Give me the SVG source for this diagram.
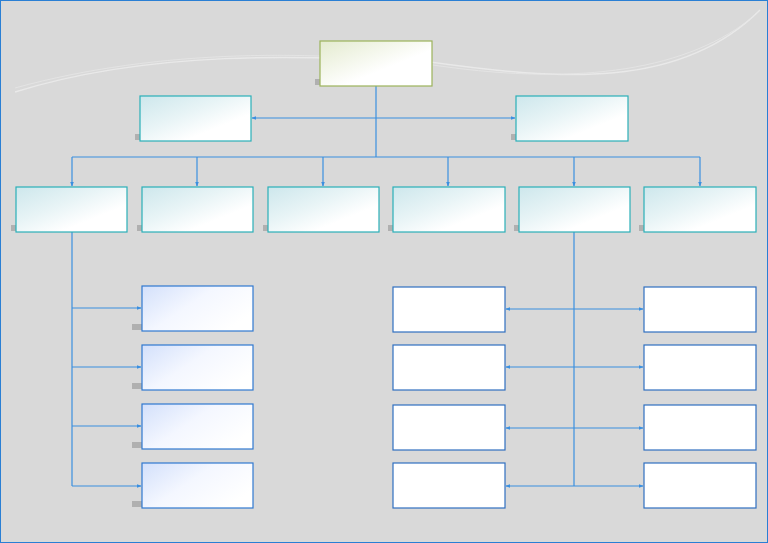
<svg xmlns="http://www.w3.org/2000/svg" width="768" height="543" viewBox="0 0 768 543">
<defs>
<linearGradient id="gG" x1="0" y1="0" x2="1" y2="1"><stop offset="0" stop-color="#e4ebcf"/><stop offset="0.6" stop-color="#ffffff"/></linearGradient>
<linearGradient id="gT" x1="0" y1="0" x2="1" y2="1"><stop offset="0" stop-color="#cde7ec"/><stop offset="0.4" stop-color="#e8f4f6"/><stop offset="0.7" stop-color="#ffffff"/></linearGradient>
<linearGradient id="gB" x1="0" y1="0" x2="1" y2="0.6"><stop offset="0" stop-color="#d3e0fb"/><stop offset="0.5" stop-color="#f4f7ff"/><stop offset="1" stop-color="#ffffff"/></linearGradient>
<marker id="ar" viewBox="0 0 10 10" refX="9" refY="5" markerWidth="4" markerHeight="4" orient="auto-start-reverse"><path d="M0 1L10 5L0 9z" fill="#3a8fe0"/></marker>
</defs>
<style>
.sh{fill:#888;opacity:.5}
.g{fill:url(#gG);stroke:#9bb35a;stroke-width:1.2}
.t{fill:url(#gT);stroke:#2ab0b8;stroke-width:1.2}
.b{fill:url(#gB);stroke:#2f78d0;stroke-width:1.2}
.w{fill:#fff;stroke:#2f6fc0;stroke-width:1.2}
.c{fill:none;stroke:#3a8fe0;stroke-width:1.2}
</style>
<rect x="0" y="0" width="768" height="543" fill="#d9d9d9" stroke="#2a7fd4" stroke-width="2"/>
<path d="M15 92 C150 50 300 55 430 62 C560 80 680 90 760 10" fill="none" stroke="#ececec" stroke-width="1.5" opacity=".8"/>
<path d="M15 88 C160 48 320 50 440 66 C580 86 690 70 755 15" fill="none" stroke="#e6e6e6" stroke-width="1" opacity=".8"/>
<g id="connectors">
<path class="c" d="M376 86V157"/>
<path class="c" d="M252 118H515" marker-start="url(#ar)" marker-end="url(#ar)"/>
<path class="c" d="M72 157H700"/>
<path class="c" d="M72 157V186" marker-end="url(#ar)"/>
<path class="c" d="M197 157V186" marker-end="url(#ar)"/>
<path class="c" d="M323 157V186" marker-end="url(#ar)"/>
<path class="c" d="M448 157V186" marker-end="url(#ar)"/>
<path class="c" d="M574 157V186" marker-end="url(#ar)"/>
<path class="c" d="M700 157V186" marker-end="url(#ar)"/>
<path class="c" d="M72 232V486"/>
<path class="c" d="M72 308H141" marker-end="url(#ar)"/>
<path class="c" d="M72 367H141" marker-end="url(#ar)"/>
<path class="c" d="M72 426H141" marker-end="url(#ar)"/>
<path class="c" d="M72 486H141" marker-end="url(#ar)"/>
<path class="c" d="M574 232V486"/>
<path class="c" d="M506 309H643" marker-start="url(#ar)" marker-end="url(#ar)"/>
<path class="c" d="M506 367H643" marker-start="url(#ar)" marker-end="url(#ar)"/>
<path class="c" d="M506 428H643" marker-start="url(#ar)" marker-end="url(#ar)"/>
<path class="c" d="M506 486H643" marker-start="url(#ar)" marker-end="url(#ar)"/>
</g>
<g id="n0"><rect class="sh" x="315" y="79" width="20" height="6"/><rect class="g" x="320" y="41" width="112" height="45"/></g>
<g id="n1"><rect class="sh" x="135" y="134" width="20" height="6"/><rect class="t" x="140" y="96" width="111" height="45"/></g>
<g id="n2"><rect class="sh" x="511" y="134" width="20" height="6"/><rect class="t" x="516" y="96" width="112" height="45"/></g>
<g id="n3"><rect class="sh" x="11" y="225" width="20" height="6"/><rect class="t" x="16" y="187" width="111" height="45"/></g>
<g id="n4"><rect class="sh" x="137" y="225" width="20" height="6"/><rect class="t" x="142" y="187" width="111" height="45"/></g>
<g id="n5"><rect class="sh" x="263" y="225" width="20" height="6"/><rect class="t" x="268" y="187" width="111" height="45"/></g>
<g id="n6"><rect class="sh" x="388" y="225" width="20" height="6"/><rect class="t" x="393" y="187" width="112" height="45"/></g>
<g id="n7"><rect class="sh" x="514" y="225" width="20" height="6"/><rect class="t" x="519" y="187" width="111" height="45"/></g>
<g id="n8"><rect class="sh" x="639" y="225" width="20" height="6"/><rect class="t" x="644" y="187" width="112" height="45"/></g>
<g id="n9"><rect class="sh" x="132" y="324" width="20" height="6"/><rect class="b" x="142" y="286" width="111" height="45"/></g>
<g id="n10"><rect class="sh" x="132" y="383" width="20" height="6"/><rect class="b" x="142" y="345" width="111" height="45"/></g>
<g id="n11"><rect class="sh" x="132" y="442" width="20" height="6"/><rect class="b" x="142" y="404" width="111" height="45"/></g>
<g id="n12"><rect class="sh" x="132" y="501" width="20" height="6"/><rect class="b" x="142" y="463" width="111" height="45"/></g>
<g id="n13"><rect class="w" x="393" y="287" width="112" height="45"/></g>
<g id="n14"><rect class="w" x="393" y="345" width="112" height="45"/></g>
<g id="n15"><rect class="w" x="393" y="405" width="112" height="45"/></g>
<g id="n16"><rect class="w" x="393" y="463" width="112" height="45"/></g>
<g id="n17"><rect class="w" x="644" y="287" width="112" height="45"/></g>
<g id="n18"><rect class="w" x="644" y="345" width="112" height="45"/></g>
<g id="n19"><rect class="w" x="644" y="405" width="112" height="45"/></g>
<g id="n20"><rect class="w" x="644" y="463" width="112" height="45"/></g>
</svg>
